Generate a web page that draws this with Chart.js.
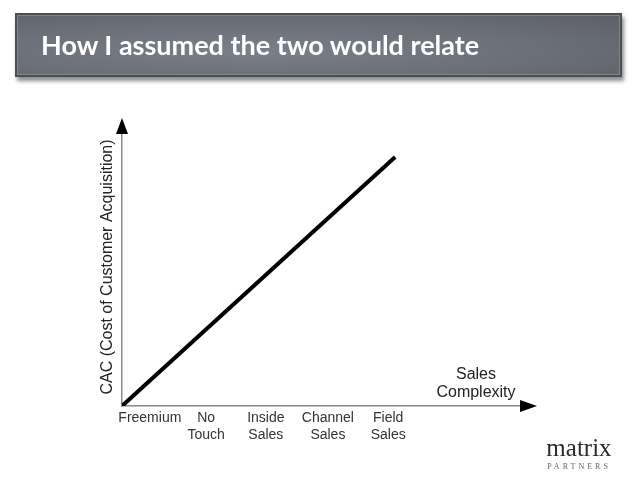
<!DOCTYPE html>
<html>
<head>
<meta charset="utf-8">
<script src="https://cdn.jsdelivr.net/npm/chart.js@4"></script>
<style>
  body { margin: 0; background: #fff; width: 638px; height: 478px; overflow: hidden; position: relative; }
  #cabecalho {
    position: absolute; left: 15px; top: 13px; width: 603px; height: 60px;
    background: radial-gradient(ellipse at 40% 60%, #7a7f88 0%, #6b6f77 55%, #5c5f66 100%);
    border: 2px solid #4b4e53;
    box-shadow: 2px 4px 4px rgba(0,0,0,0.45), inset 0 0 0 1px #80848b;
  }
  #cabecalho span {
    position: absolute; left: 24px; top: 13px;
    font-family: Lato, sans-serif; font-weight: bold; font-size: 27px; color: #fff;
  }
  #logo { position: absolute; left: 539px; top: 435px; width: 80px; text-align: center; color: #2b2b2b; }
  #logo .m { font-family: "Liberation Serif", serif; font-size: 25px; line-height: 25px; }
  #logo .p { font-family: "Liberation Serif", serif; font-size: 8px; letter-spacing: 3px; color: #666; margin-top: 2px; }
  canvas { position: absolute; left: 0; top: 0; }
</style>
</head>
<body>
<canvas id="grafico" width="638" height="478"></canvas>
<div id="cabecalho"><span>How I assumed the two would relate</span></div>
<div id="logo"><div class="m">matrix</div><div class="p">PARTNERS</div></div>
<script>
// categorias do eixo X e posicao de cada uma
const categorias = [['Freemium'], ['No', 'Touch'], ['Inside', 'Sales'], ['Channel', 'Sales'], ['Field', 'Sales']];
const posicoes = [0.48, 1.45, 2.48, 3.55, 4.59];
// a linha (inicio e fim)
const linhaX = [0, 4.71];
const linhaY = [0, 8.96];

const tituloY = 'CAC (Cost of Customer Acquisition)';
const tituloX = ['Sales', 'Complexity'];

// setas nas pontas dos eixos + texto "Sales Complexity"
const setas = {
  id: 'setas',
  afterDraw(chart) {
    const c = chart.ctx, a = chart.chartArea;
    c.save();
    c.fillStyle = '#000';
    c.beginPath();
    c.moveTo(a.left, a.top - 10);
    c.lineTo(a.left - 6, a.top + 6);
    c.lineTo(a.left + 6, a.top + 6);
    c.closePath();
    c.fill();
    c.beginPath();
    c.moveTo(a.right + 9, a.bottom);
    c.lineTo(a.right - 8, a.bottom - 6);
    c.lineTo(a.right - 8, a.bottom + 6);
    c.closePath();
    c.fill();
    c.font = '16px "Liberation Sans", Arial, sans-serif';
    c.fillStyle = '#222';
    c.textAlign = 'center';
    c.textBaseline = 'middle';
    c.fillText(tituloX[0], 476, 375);
    c.fillText(tituloX[1], 476, 393);
    c.restore();
  }
};

const ctx = document.getElementById('grafico').getContext('2d');
const chart = new Chart(ctx, {
  type: 'line',
  data: {
    datasets: [{
      data: linhaX.map((x, i) => ({ x: x, y: linhaY[i] })),
      borderColor: '#000',
      borderWidth: 4,
      pointRadius: 0,
      borderCapStyle: 'butt'
    }]
  },
  options: {
    responsive: false,
    animation: false,
    layout: { padding: { left: 98, top: 128, right: 110, bottom: 0 } },
    plugins: { legend: { display: false }, tooltip: { enabled: false } },
    scales: {
      x: {
        type: 'linear',
        min: 0,
        max: 7,
        grid: { display: false, drawTicks: false },
        border: { color: '#8a8a8a', width: 1.5 },
        afterBuildTicks: (s) => { s.ticks = posicoes.map(v => ({ value: v })); },
        afterFit: (s) => { s.height = 72; },
        ticks: {
          autoSkip: false,
          maxRotation: 0,
          padding: 4,
          color: '#333',
          font: { size: 14, family: '"Liberation Sans", Arial, sans-serif', lineHeight: 1.2 },
          callback: (v, i) => categorias[i]
        }
      },
      y: {
        min: 0,
        max: 10,
        grid: { display: false, drawTicks: false },
        border: { color: '#8a8a8a', width: 1.5 },
        ticks: { display: false },
        afterFit: (s) => { s.width = 24; },
        title: {
          display: true,
          text: tituloY,
          color: '#222',
          padding: { top: 0, bottom: 0 },
          font: { size: 16, family: '"Liberation Sans", Arial, sans-serif' }
        }
      }
    }
  },
  plugins: [setas]
});
</script>
</body>
</html>
